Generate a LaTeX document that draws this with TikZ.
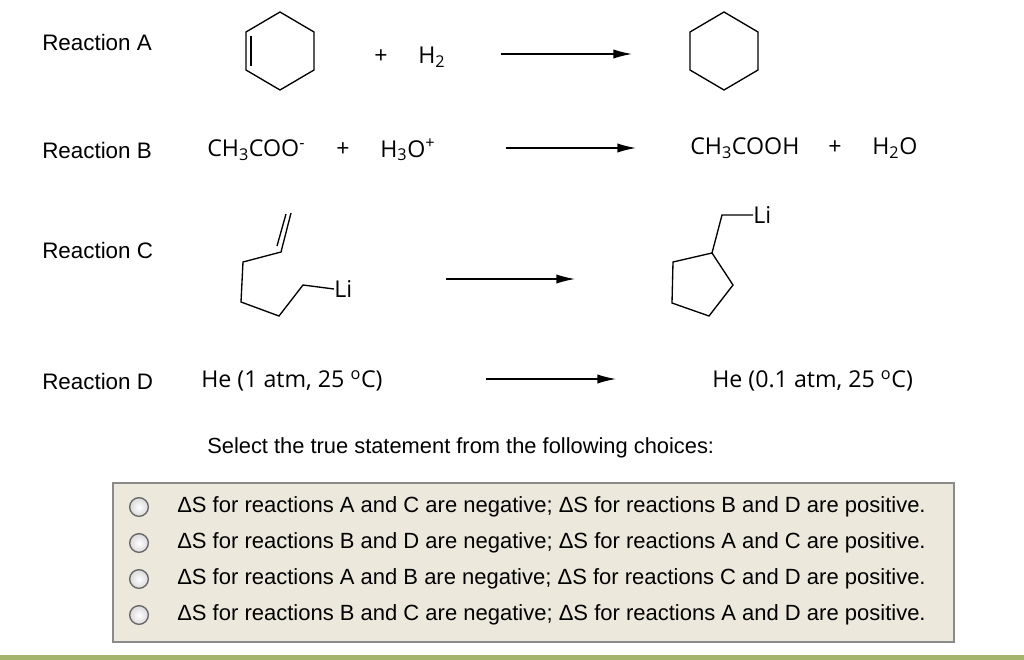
\documentclass[tikz,border=0pt]{standalone}
\usepackage{fontspec}
\setmainfont{Liberation Sans}
\newfontfamily\chem{Open Sans}
\usetikzlibrary{arrows.meta}
\definecolor{boxfill}{HTML}{ECE9DC}
\definecolor{boxline}{HTML}{8A8A8A}
\definecolor{barg}{HTML}{A4B46C}
\tikzset{
 lbl/.style={anchor=west,inner sep=0pt,font=\fontsize{16.8}{19}\selectfont},
 chm/.style={anchor=west,inner sep=0pt,font=\chem\fontsize{17.4}{20}\selectfont},
 rxn/.style={-{Latex[length=14pt,width=7pt]},line width=1pt},
 bond/.style={line width=1pt,line join=miter},
 opt/.style={anchor=west,inner sep=0pt,font=\fontsize{16.5}{19}\selectfont},
 radio/.style={circle,draw=gray!80!black,line width=1pt,inner color=white,outer color=gray!30,minimum size=14pt,inner sep=0pt}
}
\begin{document}
\begin{tikzpicture}[x=0.75pt,y=-0.75pt]
\useasboundingbox (0,0) rectangle (1024,660);
% labels
\node[lbl] (la) at (42,42) {Reaction A};
\node[lbl] (lb) at (42,150) {Reaction B};
\node[lbl] (lc) at (42,250) {Reaction C};
\node[lbl] (ld) at (42,381) {Reaction D};
% Reaction A
\draw[bond] (280,12)--(314,32)--(314,70)--(280,90)--(246,70)--(246,32)--cycle;
\draw[bond] (251,36)--(251,66);
\node[chm] (pa) at (374,57) {+};
\node[chm] (h2) at (418,57) {H\textsubscript{2}};
\coordinate (a1) at (501,54); \coordinate (a2) at (632,54);
\draw[rxn] (a1)--(a2);
\draw[bond] (724,12)--(758,32)--(758,70)--(724,90)--(690,70)--(690,32)--cycle;
% Reaction B
\node[chm] (ac) at (207,150) {CH\textsubscript{3}COO\textsuperscript{-}};
\node[chm] (pb) at (336,150) {+};
\node[chm] (h3o) at (380,150) {H\textsubscript{3}O\textsuperscript{+}};
\coordinate (b1) at (506,148); \coordinate (b2) at (636,148);
\draw[rxn] (b1)--(b2);
\node[chm] (aa) at (690,148) {CH\textsubscript{3}COOH};
\node[chm] (pb2) at (828,148) {+};
\node[chm] (h2o) at (872,148) {H\textsubscript{2}O};
% Reaction C
\node[chm] (li1) at (334,289) {Li};
\draw[bond] (291,213)--(281,252)--(243,262)--(241,302)--(279,316)--(303,285)--(li1.west);
\draw[bond] (286,214)--(277,246);
\coordinate (c1) at (446,279); \coordinate (c2) at (575,279);
\draw[rxn] (c1)--(c2);
\node[chm] (li2) at (753,215) {Li};
\draw[bond] (712,253)--(733,285)--(709,316)--(672,303)--(673,262)--cycle;
\draw[bond] (712,253)--(722,215)--(li2.west);
% Reaction D
\node[chm] (he1) at (201,381) {He (1 atm, 25 \textsuperscript{o}C)};
\coordinate (d1) at (486,379); \coordinate (d2) at (616,379);
\draw[rxn] (d1)--(d2);
\node[chm] (he2) at (712,381) {He (0.1 atm, 25 \textsuperscript{o}C)};
% question
\node[lbl,font=\fontsize{16.4}{19}\selectfont] (q) at (207,448) {Select the true statement from the following choices:};
\draw[boxline,fill=boxfill,line width=1.5pt] (113,483) rectangle (954,642);
\foreach \y/\t in {507/{ΔS for reactions A and C are negative; ΔS for reactions B and D are positive.},
 543/{ΔS for reactions B and D are negative; ΔS for reactions A and C are positive.},
 579/{ΔS for reactions A and B are negative; ΔS for reactions C and D are positive.},
 615/{ΔS for reactions B and C are negative; ΔS for reactions A and D are positive.}}{
 \node[radio] (r\y) at (139,\y) {};
 \node[opt] (o\y) at (177,\y) {\t};
}
\fill[barg] (0,655) rectangle (1024,660);
\end{tikzpicture}
\end{document}
